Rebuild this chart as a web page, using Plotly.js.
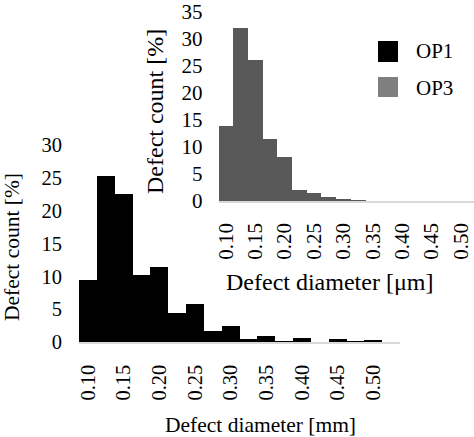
<!DOCTYPE html>
<html>
<head>
<meta charset="utf-8">
<script src="https://cdn.plot.ly/plotly-3.0.1.min.js"></script>
<style>
  html, body { margin: 0; padding: 0; background: #fff; }
  #chart { width: 474px; height: 437px; }
</style>
</head>
<body>
<div id="chart"></div>
<script>
// Bin centres of the defect-size histograms (step 0.025)
const binsOP1 = [0.100, 0.125, 0.150, 0.175, 0.200, 0.225, 0.250, 0.275, 0.300,
                 0.325, 0.350, 0.375, 0.400, 0.425, 0.450, 0.475, 0.500, 0.525];
const countOP1 = [9.5, 25.3, 22.6, 10.2, 11.4, 4.4, 5.8, 1.6, 2.4,
                  0.4, 0.9, 0.2, 0.55, 0.05, 0.4, 0.1, 0.3, 0];

const binsOP3 = [0.100, 0.125, 0.150, 0.175, 0.200, 0.225, 0.250, 0.275, 0.300,
                 0.325, 0.350, 0.375, 0.400, 0.425, 0.450, 0.475, 0.500];
const countOP3 = [13.9, 32.1, 26.1, 11.4, 8.1, 2.0, 1.4, 0.7, 0.3,
                  0.15, 0, 0, 0, 0, 0, 0, 0];

const xTicks = [0.10, 0.15, 0.20, 0.25, 0.30, 0.35, 0.40, 0.45, 0.50];
const seriesNames = ['OP1', 'OP3'];

const W = 474, H = 437;
const px = v => v / W;          // pixel -> paper x
const py = v => 1 - v / H;      // pixel -> paper y
const FONT = 'Liberation Serif, serif';

const traces = [
  { type: 'bar', name: seriesNames[0], x: binsOP1, y: countOP1, width: 0.025,
    marker: { color: '#000000', line: { width: 0 } },
    xaxis: 'x', yaxis: 'y', showlegend: false, hoverinfo: 'skip' },
  { type: 'bar', name: seriesNames[1], x: binsOP3, y: countOP3, width: 0.025,
    marker: { color: '#595959', line: { width: 0 } },
    xaxis: 'x2', yaxis: 'y2', showlegend: false, hoverinfo: 'skip' }
];

const axisCommon = {
  showgrid: false, zeroline: false, ticks: '', fixedrange: true,
  ticklabeloverflow: 'allow'
};

const layout = {
  width: W, height: H,
  margin: { l: 0, r: 0, t: 0, b: 0 },
  paper_bgcolor: '#ffffff',
  plot_bgcolor: 'rgba(0,0,0,0)',
  bargap: 0,
  font: { family: FONT, color: '#000000' },
  xaxis: Object.assign({}, axisCommon, {
    domain: [px(79), px(400)], range: [0.0875, 0.5375],
    tickvals: xTicks, tickformat: '.2f', tickangle: -90,
    tickfont: { family: FONT, size: 20.5, color: '#000' },
    ticklabelstandoff: 13,
    showline: true, linecolor: '#d9d9d9', linewidth: 1.5, layer: 'below traces',
    anchor: 'y'
  }),
  yaxis: Object.assign({}, axisCommon, {
    domain: [py(342), py(145)], range: [0, 30], dtick: 5,
    tickfont: { family: FONT, size: 20.5, color: '#000' },
    ticklabelstandoff: 16, showline: false, anchor: 'x'
  }),
  xaxis2: Object.assign({}, axisCommon, {
    domain: [px(218.5), 1], range: [0.0875, 0.522],
    tickvals: xTicks, tickformat: '.2f', tickangle: -90,
    tickfont: { family: FONT, size: 21, color: '#000' },
    ticklabelstandoff: 12,
    showline: true, linecolor: '#d9d9d9', linewidth: 1.5, layer: 'below traces',
    anchor: 'y2'
  }),
  yaxis2: Object.assign({}, axisCommon, {
    domain: [py(201), py(12)], range: [0, 35], dtick: 5,
    tickfont: { family: FONT, size: 21, color: '#000' },
    ticklabelstandoff: 15, showline: false, anchor: 'x2'
  }),
  shapes: [
    { type: 'rect', xref: 'paper', yref: 'paper',
      x0: px(378), x1: px(398), y0: py(62), y1: py(41),
      fillcolor: '#000000', line: { width: 0 } },
    { type: 'rect', xref: 'paper', yref: 'paper',
      x0: px(378), x1: px(398), y0: py(97), y1: py(77),
      fillcolor: '#7f7f7f', line: { width: 0 } }
  ],
  annotations: [
    { text: 'Defect count [%]', xref: 'paper', yref: 'paper',
      x: px(12), y: py(247), textangle: -90, showarrow: false,
      xanchor: 'center', yanchor: 'middle', font: { family: FONT, size: 21.5 } },
    { text: 'Defect diameter [mm]', xref: 'paper', yref: 'paper',
      x: px(260), y: py(425), showarrow: false,
      xanchor: 'center', yanchor: 'middle', font: { family: FONT, size: 21.5 } },
    { text: 'Defect count [%]', xref: 'paper', yref: 'paper',
      x: px(155), y: py(112), textangle: -90, showarrow: false,
      xanchor: 'center', yanchor: 'middle', font: { family: FONT, size: 24 } },
    { text: 'Defect diameter [\u03bcm]', xref: 'paper', yref: 'paper',
      x: px(329), y: py(282), showarrow: false,
      xanchor: 'center', yanchor: 'middle', font: { family: FONT, size: 24 } },
    { text: seriesNames[0], xref: 'paper', yref: 'paper',
      x: px(414), y: py(51), showarrow: false,
      xanchor: 'left', yanchor: 'middle', font: { family: FONT, size: 21 } },
    { text: seriesNames[1], xref: 'paper', yref: 'paper',
      x: px(414), y: py(88), showarrow: false,
      xanchor: 'left', yanchor: 'middle', font: { family: FONT, size: 21 } }
  ]
};

Plotly.newPlot('chart', traces, layout, { staticPlot: true, displayModeBar: false });
</script>
</body>
</html>
